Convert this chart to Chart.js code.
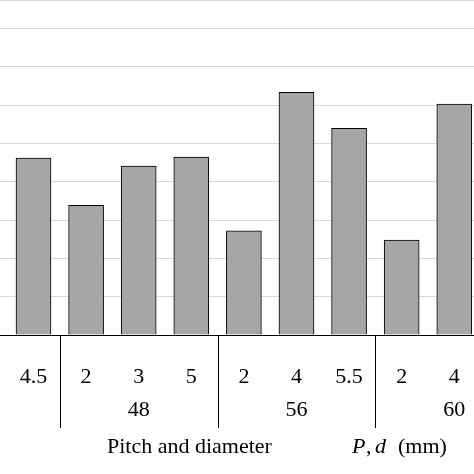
<!DOCTYPE html>
<html><head><meta charset="utf-8">
<script src="https://cdn.jsdelivr.net/npm/chart.js@4"></script>
<style>html,body{margin:0;padding:0;background:#fff}#w{width:474px;height:474px}</style>
</head><body><div id="w"><canvas id="c"></canvas></div>
<script>
const diameters = ["4.5","2","3","5","2","4","5.5","2","4"];
const values = [4.62,3.39,4.41,4.65,2.72,6.34,5.40,2.48,6.03];
const groups = [{label:"48",from:1,to:3},{label:"56",from:4,to:6},{label:"60",from:7,to:9}];
const xTitle = "Pitch and diameter";

const plug = {
  id:'grp',
  afterDraw(ch){
    const c=ch.ctx, xs=ch.scales.x, a=ch.chartArea;
    c.save();
    c.strokeStyle='#000'; c.lineWidth=1;
    c.beginPath(); c.moveTo(a.left,a.bottom+0.5); c.lineTo(a.right,a.bottom+0.5); c.stroke();
    c.fillStyle='#000'; c.font='22px "Liberation Serif"'; c.textAlign='center'; c.textBaseline='middle';
    diameters.forEach((d,i)=>c.fillText(d,xs.getPixelForValue(i),a.bottom+42));
    groups.forEach(g=>{
      const l=xs.getPixelForValue(g.from-0.5);
      c.beginPath(); c.moveTo(Math.round(l)+0.5,a.bottom); c.lineTo(Math.round(l)+0.5,a.bottom+93); c.stroke();
      c.fillText(g.label,xs.getPixelForValue((g.from+g.to)/2),a.bottom+75);
    });
    c.textAlign='left';
    c.fillText(xTitle,107,a.bottom+112);
    c.font='italic 22px "Liberation Serif"';
    c.fillText("P",352,a.bottom+112);
    c.font='22px "Liberation Serif"'; c.fillText(",",366,a.bottom+112);
    c.font='italic 22px "Liberation Serif"'; c.fillText("d",375,a.bottom+112);
    c.font='22px "Liberation Serif"'; c.fillText("(mm)",398,a.bottom+112);
    c.restore();
  }
};
new Chart(document.getElementById('c'),{
  type:'bar',
  data:{datasets:[{data:values.map((v,i)=>({x:i,y:v})),backgroundColor:'#a6a6a6',borderColor:'#000',borderWidth:1,borderSkipped:'bottom',barThickness:35}]},
  options:{responsive:true,maintainAspectRatio:false,animation:false,
    layout:{padding:{left:0,right:0,top:0,bottom:139}},
    plugins:{legend:{display:false},tooltip:{enabled:false}},
    scales:{
      x:{type:'linear',min:-0.637,max:8.375,offset:false,display:false,grid:{display:false}},
      y:{min:0,max:8.75,display:true,ticks:{display:false,stepSize:1},border:{display:false},grid:{color:'#d9d9d9',drawTicks:false}}
    }},
  plugins:[plug]
});
</script></body></html>
